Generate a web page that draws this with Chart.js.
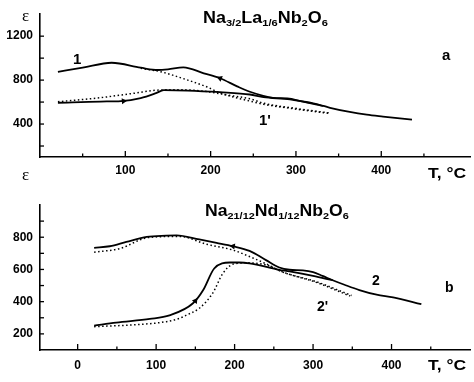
<!DOCTYPE html>
<html><head><meta charset="utf-8">
<script src="https://cdn.jsdelivr.net/npm/chart.js@4.4.1/dist/chart.umd.min.js"></script>
<style>
body{margin:0;background:#fff;width:474px;height:382px;overflow:hidden;position:relative;font-family:"Liberation Sans",Arial,sans-serif;}
canvas{position:absolute;left:0;}
.t{position:absolute;font-weight:bold;color:#000;white-space:nowrap;line-height:1;}
.t sub{font-size:0.62em;vertical-align:-0.3em;}
.eps{position:absolute;font-family:"Liberation Serif","DejaVu Serif",serif;font-size:17px;line-height:1;}
</style></head><body>
<canvas id="ca" width="474" height="190" style="top:0"></canvas>
<canvas id="cb" width="474" height="192" style="top:190px"></canvas>
<div class="eps" style="left:22px;top:7px">ε</div>
<div class="eps" style="left:22px;top:166px">ε</div>
<div class="t" style="left:203px;top:10px;font-size:16px;transform:scaleX(1.12);transform-origin:left">Na<sub>3/2</sub>La<sub>1/6</sub>Nb<sub>2</sub>O<sub>6</sub></div>
<div class="t" style="left:205px;top:203px;font-size:16px;transform:scaleX(1.1);transform-origin:left">Na<sub>21/12</sub>Nd<sub>1/12</sub>Nb<sub>2</sub>O<sub>6</sub></div>
<div class="t" style="left:442px;top:47px;font-size:15px">a</div>
<div class="t" style="left:445px;top:280px;font-size:14px">b</div>
<div class="t" style="left:73px;top:51px;font-size:15px">1</div>
<div class="t" style="left:259px;top:112px;font-size:15px">1'</div>
<div class="t" style="left:372px;top:273px;font-size:14px">2</div>
<div class="t" style="left:317px;top:299px;font-size:14px">2'</div>
<div class="t" style="left:428px;top:166px;font-size:14px;transform:scaleX(1.25);transform-origin:left">T, °C</div>
<div class="t" style="left:428px;top:358px;font-size:14px;transform:scaleX(1.25);transform-origin:left">T, °C</div>
<script>
// ---- panel a : Na3/2La1/6Nb2O6 ----
const xTicksA = [50,100,150,200,250,300,350,400,450];
const yTicksA = [200,400,600,800,1000,1200];
const x1Cool = [21, 50, 84, 118, 138, 150, 168, 192, 211, 231, 246, 273, 290, 308, 318, 332, 340, 363, 383, 402, 436];
const y1Cool = [875, 913, 958, 913, 892, 898, 916, 862, 817, 743, 694, 639, 633, 606, 592, 565, 548, 510, 485, 468, 440];
const x1Heat = [21, 71, 95, 118, 136, 145, 173, 211, 246, 262, 293, 332];
const y1Heat = [594, 605, 609, 636, 681, 708, 705, 690, 669, 645, 624, 565];
const x1dCool = [118, 141, 172, 196, 211, 246, 262, 301, 340];
const y1dCool = [907, 877, 803, 737, 683, 609, 580, 535, 496];
const x1dHeat = [21, 71, 110, 141, 165, 192, 223, 246, 262, 301, 340];
const y1dHeat = [603, 640, 680, 710, 712, 699, 660, 630, 590, 541, 500];
const arrowsA = [{x:211,y:817,r:-68},{x:98,y:609,r:85}];

// ---- panel b : Na21/12Nd1/12Nb2O6 ----
const xTicksB = [0,50,100,150,200,250,300,350,400,450];
const yTicksB = [200,300,400,500,600,700,800,900];
const x2Cool = [21, 41, 62, 88, 113, 126, 155, 177, 198, 219, 240, 257, 270, 287, 300, 312, 325, 340, 359, 381, 402, 438];
const y2Cool = [734, 744, 771, 802, 810, 812, 786, 765, 744, 715, 658, 612, 598, 594, 583, 560, 533, 505, 472, 443, 427, 384];
const x2Heat = [21, 49, 92, 117, 147, 160, 174, 194, 206, 219, 257, 270, 300, 325];
const y2Heat = [251, 270, 293, 315, 390, 472, 606, 643, 643, 638, 598, 588, 560, 533];
const x2dCool = [21, 54, 90, 130, 164, 198, 219, 240, 261, 304, 347];
const y2dCool = [707, 730, 798, 805, 757, 720, 680, 635, 585, 520, 435];
const x2dHeat = [21, 70, 113, 130, 139, 155, 172, 185, 198, 215, 240, 262, 304, 338, 349];
const y2dHeat = [245, 256, 276, 297, 317, 359, 452, 575, 633, 641, 628, 582, 524, 460, 438];
const arrowsB = [{x:198,y:744,r:-80},{x:150,y:405,r:35}];

const zip=(xs,ys)=>xs.map((x,i)=>({x,y:ys[i]}));
Chart.defaults.font.family='"Liberation Sans", Arial, sans-serif';
Chart.defaults.font.weight='bold';
Chart.defaults.font.size=12;
Chart.defaults.color='#000';

const inTicks={id:'inTicks',afterDraw(chart){
  const {ctx,chartArea:a,scales:{x,y}}=chart;
  ctx.save();ctx.strokeStyle='#000';ctx.lineWidth=1.3;
  x.ticks.forEach(t=>{const p=x.getPixelForValue(t.value);const L=t.value%100===0?6:3.5;
    ctx.beginPath();ctx.moveTo(p,a.bottom);ctx.lineTo(p,a.bottom-L);ctx.stroke();});
  y.ticks.forEach(t=>{const p=y.getPixelForValue(t.value);const L=4;
    ctx.beginPath();ctx.moveTo(a.left,p);ctx.lineTo(a.left+L,p);ctx.stroke();});
  ctx.restore();}};

function solid(d){return {data:d,showLine:true,borderColor:'#000',borderWidth:1.8,pointRadius:0,cubicInterpolationMode:'monotone',fill:false};}
function dotted(d){return {data:d,showLine:true,borderColor:'#000',borderWidth:1.5,borderDash:[1.5,2.5],pointRadius:0,cubicInterpolationMode:'monotone',fill:false};}
function arrows(arr){return {data:arr.map(p=>({x:p.x,y:p.y})),showLine:false,pointStyle:'triangle',pointRadius:3.5,
  pointRotation:arr.map(p=>p.r),backgroundColor:'#000',borderColor:'#000',borderWidth:0};}

function make(id,cfg){
  new Chart(document.getElementById(id),{type:'scatter',
    data:{datasets:cfg.ds},
    options:{responsive:false,animation:false,devicePixelRatio:1,
      layout:{padding:{left:0,right:3,top:cfg.top,bottom:0}},
      plugins:{legend:{display:false},tooltip:{enabled:false}},
      scales:{
        x:{type:'linear',min:cfg.xmin,max:cfg.xmax,
           afterBuildTicks:s=>{s.ticks=cfg.xt.map(v=>({value:v}));},
           afterFit:s=>{s.height=cfg.xh;},
           grid:{display:false,drawTicks:false},
           border:{display:true,color:'#000',width:1.6},
           ticks:{padding:cfg.xpad,maxRotation:0,autoSkip:false,callback:v=>v%100===0?String(v):''}},
        y:{type:'linear',min:cfg.ymin,max:cfg.ymax,
           afterBuildTicks:s=>{s.ticks=cfg.yt.map(v=>({value:v}));},
           afterFit:s=>{s.width=40;},
           grid:{display:false,drawTicks:false},
           border:{display:true,color:'#000',width:1.6},
           ticks:{padding:7,autoSkip:false,callback:v=>cfg.ylab(v)?String(v):''}}
      }},
    plugins:[inTicks]});
}

make('ca',{top:11.5,xh:33,xpad:6,xmin:0,xmax:504,ymin:100,ymax:1400,xt:xTicksA,yt:yTicksA,
  ylab:v=>v%400===0,
  ds:[solid(zip(x1Cool,y1Cool)),solid(zip(x1Heat,y1Heat)),dotted(zip(x1dCool,y1dCool)),dotted(zip(x1dHeat,y1dHeat)),arrows(arrowsA)]});
make('cb',{top:15,xh:32,xpad:8,xmin:-48,xmax:500,ymin:100,ymax:1000,xt:xTicksB,yt:yTicksB,
  ylab:v=>v%200===0,
  ds:[solid(zip(x2Cool,y2Cool)),solid(zip(x2Heat,y2Heat)),dotted(zip(x2dCool,y2dCool)),dotted(zip(x2dHeat,y2dHeat)),arrows(arrowsB)]});
</script>
</body></html>
